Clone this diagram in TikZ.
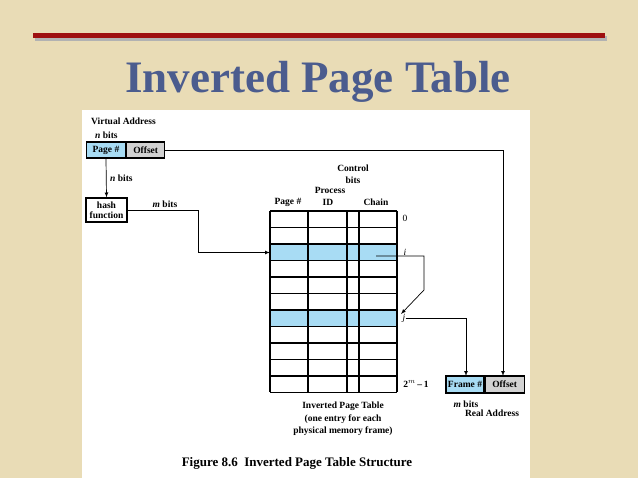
\documentclass[tikz,border=0pt]{standalone}
\usepackage{fontspec}
\setmainfont{Liberation Serif}
\begin{document}
\begin{tikzpicture}[x=1pt,y=-1pt,
  lbl/.style={font=\bfseries\fontsize{9.5}{10}\selectfont,inner sep=0pt},
  cell/.style={draw,line width=1.2pt},
  conn/.style={draw,line width=0.7pt},
  arr/.style={conn,-latex}]
\definecolor{bg}{HTML}{E9DCB6}
\definecolor{lb}{HTML}{A8DCF4}
\definecolor{gb}{HTML}{D2D2D2}
\definecolor{tb}{HTML}{4B5C8E}
\definecolor{rb}{HTML}{9E1010}
\useasboundingbox (0,0) rectangle (638,478);
\fill[bg] (0,0) rectangle (638,478);
\fill[gray!60] (35,36) rectangle (607,41);
\fill[rb] (33,33) rectangle (605,38);
\node[font=\bfseries\fontsize{45}{46}\selectfont,text=tb] (title) at (318,82) {Inverted Page Table};
\fill[white] (82,110) rectangle (530,478);
% table
\fill[lb] (270,244) rectangle (397,261);
\fill[lb] (270,310) rectangle (397,327);
\foreach \k in {0,...,11} \draw[line width=1.4pt] (270,211+16.5*\k) -- (397,211+16.5*\k);
\foreach \x in {270,308,347,359,397} \draw[line width=1.4pt] (\x,211) -- (\x,392.5);
\coordinate (rowi) at (270,252.5);
\coordinate (chain) at (376,256);
\coordinate (jend) at (401,314);
\node[lbl] at (288,202) {Page \#};
\node[lbl] at (328,202) {ID};
\node[lbl] at (376,202) {Chain};
\node[lbl] at (330,190) {Process};
\node[lbl] at (353,168) {Control};
\node[lbl] at (353,180) {bits};
\node[lbl,font=\fontsize{9.5}{10}\selectfont] at (405,218) {0};
\node[lbl,font=\itshape\fontsize{9.5}{10}\selectfont] at (405,252) {i};
\node[lbl,font=\itshape\fontsize{9.5}{10}\selectfont] (j) at (404,318) {j};
\node[lbl] at (416,384) {2$^{m}$\,--\,1};
% virtual address
\node[lbl,anchor=west] at (91,121) {Virtual Address};
\node[lbl,anchor=west] at (95,135) {\itshape n\upshape\ bits};
\node[cell,fill=lb,minimum width=39pt,minimum height=16pt,lbl] (vp) at (106,150) {Page \#};
\node[cell,fill=gb,minimum width=38pt,minimum height=16pt,lbl,anchor=west] (vo) at (vp.east) {Offset};
\node[cell,fill=white,align=center,lbl,minimum width=41pt,minimum height=24pt,inner sep=1pt] (hash) at (106.5,210) {hash\\function};
\draw[arr] (vp.south) -- (hash.north);
\node[lbl,anchor=west] at (110,178) {\itshape n\upshape\ bits};
\node[lbl] at (165,204) {\itshape m\upshape\ bits};
\draw[arr] (hash.east) -- (198,210) -- (198,252.5) -- (rowi);
% real address
\node[cell,fill=lb,minimum width=38pt,minimum height=17pt,lbl] (rf) at (465,384.5) {Frame \#};
\node[cell,fill=gb,minimum width=39pt,minimum height=17pt,lbl,anchor=west] (ro) at (rf.east) {Offset};
\draw[arr] (vo.east) -- (503,150) -- (503,376);
\draw[arr] (j.east) -- (466,318) -- (466,376);
\draw[arr] (chain) -- (424,256) -- (424,290) -- (jend);
\node[lbl] at (466,404) {\itshape m\upshape\ bits};
\node[lbl] at (492,413) {Real Address};
\node[lbl,align=center,font=\bfseries\fontsize{9.5}{12.5}\selectfont] at (343,419) {Inverted Page Table\\(one entry for each\\physical memory frame)};
\node[lbl,font=\bfseries\fontsize{13}{14}\selectfont] at (297,463) {Figure 8.6\ \ Inverted Page Table Structure};
\end{tikzpicture}
\end{document}
